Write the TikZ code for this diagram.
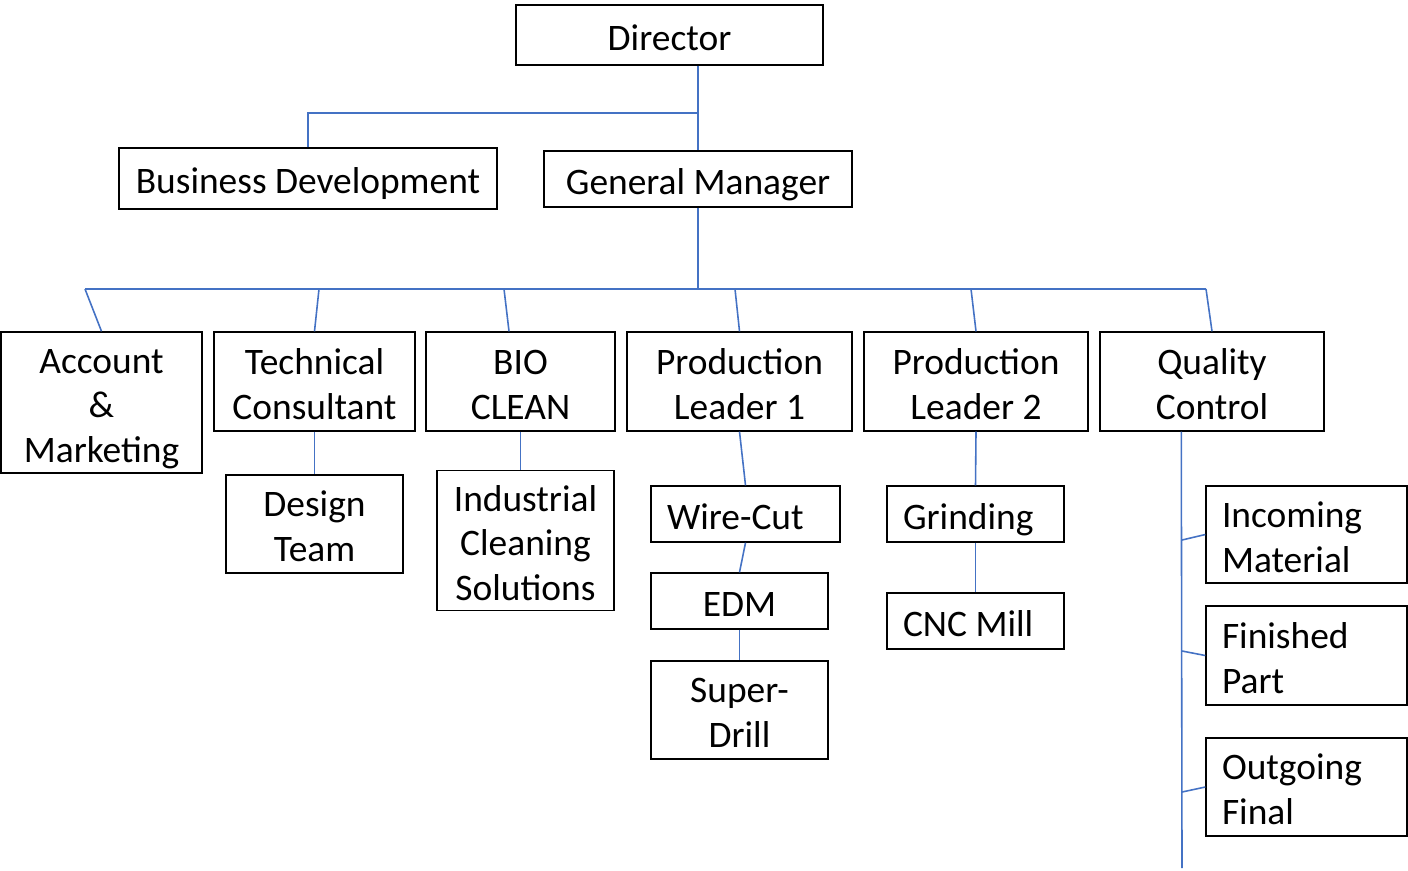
\documentclass[tikz,border=0pt]{standalone}
\usepackage{fontspec}
\setmainfont{Carlito}
\definecolor{linkblue}{HTML}{4472C4}
\tikzset{
  box/.style 2 args={draw=black, line width=0.8pt, inner xsep=0pt, inner ysep=0pt,
    align=flush center, text width=(#1)*0.02cm, minimum height=#2*0.02cm,
    font=\fontsize{21.3}{25.5}\selectfont,
    execute at begin node={\rule{0pt}{23pt}},
    execute at end node={\rule[-5.5pt]{0pt}{5.5pt}}},
  leftbox/.style 2 args={box={#1-32}{#2}, inner xsep=0.32cm, align=flush left},
  link/.style={draw=linkblue, line width=0.9pt}
}
\begin{document}
\begin{tikzpicture}[x=0.02cm,y=-0.02cm]
	\useasboundingbox (0,0) rectangle (1408,870);
	% top levels
	\node[box={307}{60}] (dir) at (669.5,35) {Director};
	\node[box={378}{61}] (bd) at (308,178.5) {Business Development};
	\node[box={308}{56}] (gm) at (698,179) {General Manager};
	% departments
	\node[box={201}{141}] (acc) at (101.5,402.5) {Account\\\&\\Marketing};
	\node[box={201}{99}] (tc) at (314.5,381.5) {Technical\\Consultant};
	\node[box={189}{99}] (bio) at (520.5,381.5) {BIO\\CLEAN};
	\node[box={225}{99}] (pl1) at (739.5,381.5) {Production\\Leader 1};
	\node[box={224}{99}] (pl2) at (976,381.5) {Production\\Leader 2};
	\node[box={224}{99}] (qc) at (1212,381.5) {Quality\\Control};
	% teams
	\node[box={177}{98}] (ds) at (314.5,524) {Design\\Team};
	\node[box={177}{139}] (ics) at (525.5,540.5) {Industrial\\Cleaning\\Solutions};
	\node[leftbox={189}{56}] (wc) at (745.5,514) {Wire-Cut};
	\node[box={177}{56}] (edm) at (739.5,601) {EDM};
	\node[box={177}{98}] (sd) at (739.5,710) {Super-\\Drill};
	\node[leftbox={177}{56}] (gr) at (975.5,514) {Grinding};
	\node[leftbox={177}{56}] (cnc) at (975.5,621) {CNC Mill};
	\node[leftbox={201}{97}] (im) at (1306.5,534.5) {Incoming\\Material};
	\node[leftbox={201}{99}] (fp) at (1306.5,655.5) {Finished\\Part};
	\node[leftbox={201}{98}] (of) at (1306.5,787) {Outgoing\\Final};
	% junction points
	\coordinate (j1) at (697,113);
	\coordinate (a1) at (85,289);
	\coordinate (a2) at (319,289);
	\coordinate (a3) at (504,289);
	\coordinate (a4) at (735,289);
	\coordinate (a5) at (971,289);
	\coordinate (a6) at (1206,289);
	\coordinate (spine) at ([xshift=1.64cm]qc.south west);
	\coordinate (spineEnd) at (1182,868);
	\coordinate (b1) at (1182,540);
	\coordinate (b2) at (1182,651);
	\coordinate (b3) at (1182,792);
	% connectors
	\path[link] (dir.south -| gm.north) -- (gm.north);
	\path[link] (bd.north) |- (j1);
	\path[link] (gm.south) -- (gm.south |- a1);
	\path[link] (a1) -- (a6);
	\path[link] (a1) -- (acc.north);
	\path[link] (a2) -- (tc.north);
	\path[link] (a3) -- ([xshift=-0.23cm]bio.north);
	\path[link] (a4) -- (pl1.north);
	\path[link] (a5) -- (pl2.north);
	\path[link] (a6) -- (qc.north);
	\path[link] (tc.south) -- (ds.north);
	\path[link] (bio.south) -- (bio.south |- ics.north);
	\path[link] (pl1.south) -- (wc.north);
	\path[link] (wc.south) -- (edm.north);
	\path[link] (edm.south) -- (sd.north);
	\path[link] (pl2.south) -- (gr.north);
	\path[link] (gr.south) -- (cnc.north);
	\path[link] (spine) -- (spineEnd);
	\path[link] (b1) -- (im.west);
	\path[link] (b2) -- (fp.west);
	\path[link] (b3) -- (of.west);
\end{tikzpicture}
\end{document}
